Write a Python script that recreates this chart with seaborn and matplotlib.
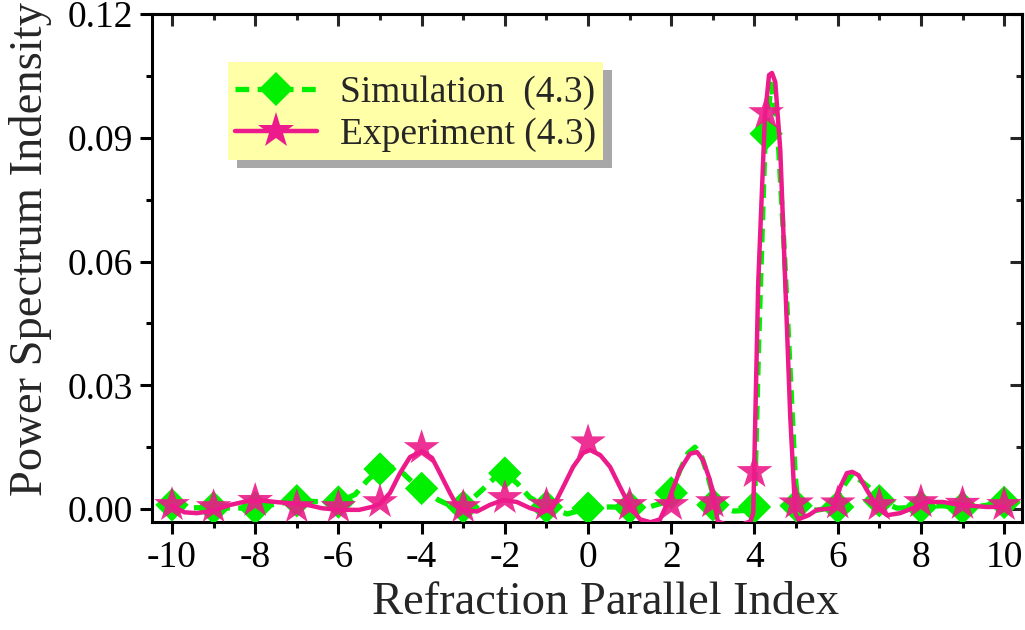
import matplotlib
matplotlib.use('Agg')
import matplotlib.pyplot as plt
from matplotlib.lines import Line2D
from matplotlib.patches import Rectangle
from matplotlib.ticker import MultipleLocator, FormatStrFormatter
import seaborn as sns
import numpy as np

# marker data (integer indices plus the peak point)
marker_x = [-10, -9, -8, -7, -6, -5, -4, -3, -2, -1, 0, 1, 2, 3, 4, 5, 6, 7, 8, 9, 10, 4.28]
sim_marker_y = [0.0010, 0.0003, 0.0003, 0.0020, 0.0017, 0.0097, 0.0050, 0.0005, 0.0087, 0.0005, 0.0002,
                0.0004, 0.0039, 0.0010, 0.0005, 0.0008, 0.0005, 0.0020, 0.0005, 0.0003, 0.0016, 0.0910]
exp_marker_y = [0.0010, 0.0005, 0.0020, 0.0005, 0.0005, 0.0017, 0.0148, 0.0005, 0.0027, 0.0010, 0.0162,
                0.0010, 0.0010, 0.0017, 0.0090, 0.0014, 0.0014, 0.0010, 0.0017, 0.0013, 0.0010, 0.0960]

# smooth curves
sim_line_x = [-10.0, -9.5, -9.0, -8.5, -8.0, -7.5, -7.0, -6.5, -6.0, -5.6, -5.3, -5.0, -4.75, -4.45, -4.2,
              -4.0, -3.6, -3.3, -3.0, -2.55, -2.2, -2.0, -1.7, -1.4, -1.0, -0.5, 0.0, 0.5, 1.0, 1.5, 1.8,
              2.0, 2.2, 2.4, 2.57, 2.72, 2.86, 3.0, 3.2, 3.5, 3.85, 4.0, 4.1, 4.25, 4.4, 4.55, 4.72, 4.85,
              4.98, 5.05, 5.5, 5.9, 6.1, 6.35, 6.6, 6.83, 7.0, 7.43, 8.0, 8.5, 9.0, 9.5, 10.0]
sim_line_y = [0.0010, 0.0003, 0.0003, 0.0002, 0.0003, 0.0012, 0.0020, 0.0018, 0.0017, 0.0035, 0.0070,
              0.0097, 0.0103, 0.0087, 0.0063, 0.0050, 0.0022, 0.0008, 0.0005, 0.0046, 0.0080, 0.0087,
              0.0062, 0.0028, 0.0005, -0.0012, 0.0002, 0.0005, 0.0004, 0.0006, 0.0015, 0.0039, 0.0092,
              0.0135, 0.0150, 0.0130, 0.0087, 0.0035, 0.0005, -0.0005, -0.0003, 0.0005, 0.0400, 0.0880,
              0.1030, 0.0930, 0.0620, 0.0350, 0.0080, 0.0005, -0.0003, 0.0005, 0.0050, 0.0085, 0.0065,
              0.0046, 0.0020, 0.0002, 0.0005, 0.0008, 0.0003, 0.0008, 0.0016]

exp_line_x = [-10.0, -9.7, -9.4, -9.0, -8.6, -8.2, -7.8, -7.4, -7.0, -6.7, -6.4, -6.0, -5.5, -5.2, -5.0,
              -4.76, -4.52, -4.28, -4.0, -3.75, -3.56, -3.32, -3.15, -3.0, -2.67, -2.36, -2.04, -1.71,
              -1.39, -1.08, -0.84, -0.6, -0.36, -0.12, 0.05, 0.29, 0.53, 0.77, 1.01, 1.25, 1.5, 1.73,
              1.97, 2.21, 2.45, 2.62, 2.76, 2.93, 3.05, 3.12, 3.5, 3.9, 3.97, 4.09, 4.25, 4.35, 4.42,
              4.5, 4.62, 4.74, 4.86, 4.98, 5.05, 5.3, 5.5, 5.9, 6.06, 6.22, 6.35, 6.5, 6.7, 6.95, 7.19,
              7.5, 7.8, 8.15, 8.53, 8.94, 9.58, 10.0]
exp_line_y = [0.0008, -0.0008, -0.0010, -0.0004, 0.0010, 0.0019, 0.0020, 0.0016, 0.0013, 0.0009, 0.0002,
              -0.0002, -0.0002, 0.0005, 0.0013, 0.0039, 0.0087, 0.0126, 0.0140, 0.0124, 0.0087, 0.0039,
              0.0008, -0.0002, -0.0006, 0.0010, 0.0022, 0.0017, 0.0002, -0.0007, 0.0005, 0.0053, 0.0102,
              0.0136, 0.0143, 0.0131, 0.0102, 0.0053, 0.0005, -0.0025, -0.0032, -0.0025, 0.0029, 0.0095,
              0.0134, 0.0138, 0.0119, 0.0070, 0.0005, -0.0030, -0.0045, -0.0030, -0.0010, 0.0548, 0.0950,
              0.1052, 0.1057, 0.1035, 0.0870, 0.0548, 0.0223, -0.0010, -0.0025, -0.0015, -0.0002, 0.0002,
              0.0053, 0.0087, 0.0090, 0.0082, 0.0046, 0.0005, -0.0015, -0.0010, 0.0002, 0.0017, 0.0017,
              0.0010, 0.0005, 0.0005]

green = '#00F000'
pink = '#EC1A8A'

sns.set_style('ticks')
plt.rcParams['font.family'] = ['Liberation Serif', 'DejaVu Serif']
plt.rcParams['axes.unicode_minus'] = False

fig = plt.figure(figsize=(10.25, 6.3), dpi=100)
ax = fig.add_axes([0.1483, 0.1714, 0.8488, 0.8064])

sns.lineplot(x=sim_line_x, y=sim_line_y, ax=ax, color=green, lw=3.8, sort=False, estimator=None,
             linestyle=(0, (2.6, 1.6)), zorder=2)
sns.scatterplot(x=marker_x, y=sim_marker_y, ax=ax, marker='D', s=17 ** 2, color=green,
                edgecolor='none', linewidth=0, zorder=3)
sns.lineplot(x=exp_line_x, y=exp_line_y, ax=ax, color=pink, lw=3.2, sort=False, estimator=None, zorder=4)
sns.scatterplot(x=marker_x, y=exp_marker_y, ax=ax, marker='*', s=27 ** 2, color=pink, alpha=0.9,
                edgecolor='none', linewidth=0, zorder=5)

ax.set_xlim(-10.48, 10.43)
ax.set_ylim(-0.00315, 0.12)
ax.xaxis.set_major_locator(MultipleLocator(2))
ax.xaxis.set_minor_locator(MultipleLocator(1))
ax.yaxis.set_major_locator(MultipleLocator(0.03))
ax.yaxis.set_minor_locator(MultipleLocator(0.015))
ax.yaxis.set_major_formatter(FormatStrFormatter('%.2f'))
ax.tick_params(which='both', direction='out', width=2.2, labelsize=27, top=False, right=False,
               colors='black')
ax.tick_params(which='major', length=8.6, pad=5)
ax.tick_params(which='minor', length=4.3)
for sp in ax.spines.values():
    sp.set_visible(True)
    sp.set_linewidth(2.2)
    sp.set_color('black')

# mirrored inward ticks on top and right
top = ax.secondary_xaxis('top')
top.xaxis.set_major_locator(MultipleLocator(2))
top.xaxis.set_minor_locator(MultipleLocator(1))
top.tick_params(which='both', direction='in', width=2.2, labeltop=False)
top.tick_params(which='major', length=8.6)
top.tick_params(which='minor', length=4.3)
top.spines['top'].set_linewidth(2.2)
right = ax.secondary_yaxis('right')
right.yaxis.set_major_locator(MultipleLocator(0.03))
right.yaxis.set_minor_locator(MultipleLocator(0.015))
right.tick_params(which='both', direction='in', width=2.2, labelright=False)
right.tick_params(which='major', length=8.6)
right.tick_params(which='minor', length=4.3)
right.spines['right'].set_linewidth(2.2)

ax.set_xlabel('Refraction Parallel Index', fontsize=33.5)
ax.set_ylabel('Power Spectrum Indensity', fontsize=33.5)
ax.xaxis.set_label_coords(0.521, -0.118)
ax.yaxis.set_label_coords(-0.115, 0.537)

handles = [
    Line2D([], [], color=green, lw=3.8, linestyle=(0, (2.6, 1.6)), marker='D', markersize=17,
           markeredgewidth=0),
    Line2D([], [], color=pink, lw=3.2, marker='*', markersize=27, markeredgewidth=0),
]
# legend box in figure pixels: x 228..603, y 62..160 (from top)
box_l, box_r, box_t, box_b = 228, 603, 62, 160
W, H = 1025, 630
leg = ax.legend(handles, ['Simulation  (4.3)', 'Experiment (4.3)'], loc='center',
                bbox_to_anchor=((box_l + box_r) / 2 / W, 1 - ((box_t + box_b) / 2 + 3) / H),
                bbox_transform=fig.transFigure, borderaxespad=0, fontsize=27, frameon=False,
                handlelength=2.2, handletextpad=0.6, borderpad=0, labelspacing=0.19)
leg.set_zorder(10)

bg = Rectangle((box_l / W, 1 - box_b / H), (box_r - box_l) / W, (box_b - box_t) / H,
               transform=fig.transFigure, facecolor='#FFFFA8', edgecolor='none', zorder=9, clip_on=False)
shadow = Rectangle(((box_l + 9) / W, 1 - (box_b + 8) / H), (box_r - box_l) / W, (box_b - box_t) / H,
                   transform=fig.transFigure, facecolor='#A8A8A8', edgecolor='none', zorder=8,
                   clip_on=False)
ax.add_artist(shadow)
ax.add_artist(bg)

fig.savefig('out.png', dpi=100)
